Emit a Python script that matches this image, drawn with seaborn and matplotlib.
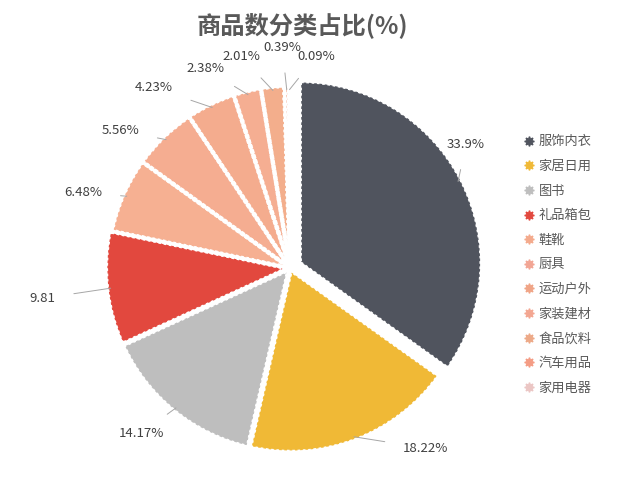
import numpy as np
import matplotlib
matplotlib.use("Agg")
import matplotlib.pyplot as plt
import seaborn as sns
from matplotlib.lines import Line2D

# data
categories = ["服饰内衣", "家居日用", "图书", "礼品箱包", "鞋靴", "厨具",
              "运动户外", "家装建材", "食品饮料", "汽车用品", "家用电器"]
shares = [33.9, 18.22, 14.17, 9.81, 6.48, 5.56, 4.23, 2.38, 2.01, 0.39, 0.09]
label_texts = ["33.9%", "18.22%", "14.17%", "9.81", "6.48%", "5.56%",
               "4.23%", "2.38%", "2.01%", "0.39%", "0.09%"]

# styling
slice_colors = ["#50545e", "#f0b936", "#bebebe", "#e2483e", "#f6b092", "#f5ad91",
                "#f4ac8e", "#f5ae92", "#f3ae8c", "#f4a689", "#efc5c0"]
legend_colors = ["#50545e", "#f0b936", "#bebebe", "#e2483e", "#f4aa8c", "#f2a594",
                 "#f0a486", "#f3a691", "#eda987", "#f49c84", "#ebc6c4"]
explode = [0.06, 0.012, 0.012, 0.012, 0, 0, 0, 0, 0, 0, 0]
# label placement (clockwise angle from 12 o'clock, distance in radii)
label_ang = [55, 143, 222, 263, 290, 309, 323, 337, 347, 358, 7]
label_rad = [1.18, 1.24, 1.22, 1.37, 1.21, 1.20, 1.24, 1.19, 1.19, 1.21, 1.17]

sns.set_theme(style="white")
plt.rcParams['font.family'] = ['Noto Sans CJK SC', 'DejaVu Sans']

fig = plt.figure(figsize=(6.4, 4.8), dpi=100)
ax = fig.add_axes([0, 0, 1, 1])
R = 182.0
cx, cy = 290.0, 268.0

wedges, _ = ax.pie(shares, colors=slice_colors, startangle=90, counterclock=False,
                   explode=explode, radius=1.0,
                   wedgeprops=dict(edgecolor="white", linewidth=2.2))
# serrated white border look
for w in wedges:
    ax.add_patch(matplotlib.patches.Wedge(w.center, w.r, w.theta1, w.theta2,
                                          fill=False, edgecolor="white",
                                          linewidth=3.2, linestyle=(0, (0.6, 0.6))))

ax.set_xlim(-cx / R, (640 - cx) / R)
ax.set_ylim(-(480 - cy) / R, cy / R)
ax.set_aspect("equal")
ax.axis("off")

total = sum(shares)
start = 0.0
for i, v in enumerate(shares):
    mid = start + v / total * 360 / 2
    start += v / total * 360
    th = np.deg2rad(mid)
    ex = explode[i]
    px, py = (1.0 + ex) * np.sin(th) * 0.98, (1.0 + ex) * np.cos(th) * 0.98
    la = np.deg2rad(label_ang[i])
    tx, ty = label_rad[i] * np.sin(la), label_rad[i] * np.cos(la)
    ax.annotate(label_texts[i], xy=(px, py), xytext=(tx, ty),
                ha="center", va="center", fontsize=9.5, color="#404040",
                arrowprops=dict(arrowstyle="-", color="#a6a6a6", lw=0.7,
                                shrinkA=11, shrinkB=0))

fig.text(0.473, 0.945, "商品数分类占比(%)", ha="center", va="center",
         fontsize=17.5, fontweight="bold", color="#595959")

handles = [Line2D([], [], linestyle="none", marker=(8, 1, 0), markersize=7,
                  color=c) for c in legend_colors]
fig.legend(handles, categories, loc="center left", bbox_to_anchor=(0.8, 0.448),
           frameon=False, fontsize=9.5, labelspacing=0.88, handletextpad=0.3,
           handlelength=0.8, labelcolor="#595959")

fig.savefig("out.png", dpi=100)
